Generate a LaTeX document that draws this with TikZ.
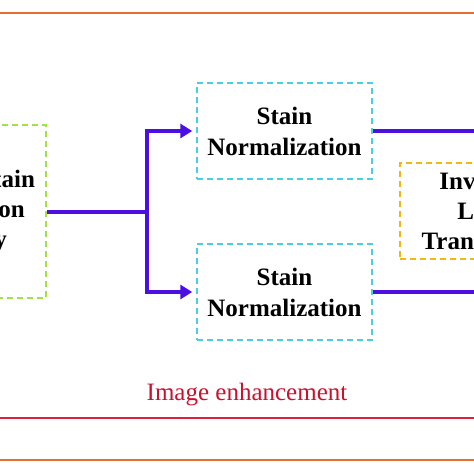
\documentclass[tikz,border=0pt]{standalone}
\usepackage{fontspec}
\setmainfont{Liberation Serif}
\usetikzlibrary{arrows.meta}
\definecolor{flowblue}{RGB}{75,15,228}
\definecolor{frameorange}{RGB}{228,112,48}
\definecolor{framered}{RGB}{222,32,58}
\definecolor{textred}{RGB}{204,16,46}
\definecolor{boxgreen}{RGB}{160,228,64}
\definecolor{boxcyan}{RGB}{72,208,224}
\definecolor{boxgold}{RGB}{240,184,16}
\begin{document}
\begin{tikzpicture}[x=1pt,y=-1pt,
  stage/.style={draw,line width=1.5pt,dash pattern=on 6pt off 4pt,align=center,
    font=\fontsize{25}{30}\selectfont\bfseries,inner sep=0pt},
  flow/.style={flowblue,line width=3.3pt},
  flowarrow/.style={flow,-{Triangle[length=12pt,width=14pt]}}]
\clip (0,0) rectangle (474,474);

% frame lines
\draw[frameorange,line width=1.5pt] (0,13) -- (474,13);
\draw[framered,line width=1.3pt] (0,418) -- (474,418);
\draw[frameorange,line width=1.5pt] (0,460) -- (474,460);

% stages
\node[stage,boxgreen,minimum width=159pt,minimum height=173pt] (sep) at (-33.5,211.5)
  {\textcolor{black}{Obtain Stain}\\[-0.5pt]\textcolor{black}{Separation}\\\textcolor{black}{Density}};
\node[stage,boxcyan,minimum width=175pt,minimum height=96pt] (norma) at (284.5,131)
  {\textcolor{black}{Stain}\\[1pt]\textcolor{black}{Normalization}};
\node[stage,boxcyan,minimum width=175pt,minimum height=96pt] (normb) at (284.5,292)
  {\textcolor{black}{Stain}\\[1pt]\textcolor{black}{Normalization}};
\node[stage,boxgold,minimum width=158pt,minimum height=96pt] (inv) at (479,211)
  {\textcolor{black}{Inverse}\\\textcolor{black}{Lab}\\\textcolor{black}{Transform}};

\node[textred,font=\fontsize{25}{30}\selectfont,anchor=base] (label) at (247,400) {Image enhancement};

% connectors
\coordinate (split) at (147,212);
\coordinate (outa) at (490,131);
\coordinate (outb) at (490,292);
\draw[flow] (sep.east |- split) -- (split);
\draw[flowarrow] (split) |- ([xshift=-4pt]norma.west);
\draw[flowarrow] (split) |- ([xshift=-4pt]normb.west);
\draw[flow] (norma.east) -- (outa);
\draw[flow] (normb.east) -- (outb);

\end{tikzpicture}
\end{document}
